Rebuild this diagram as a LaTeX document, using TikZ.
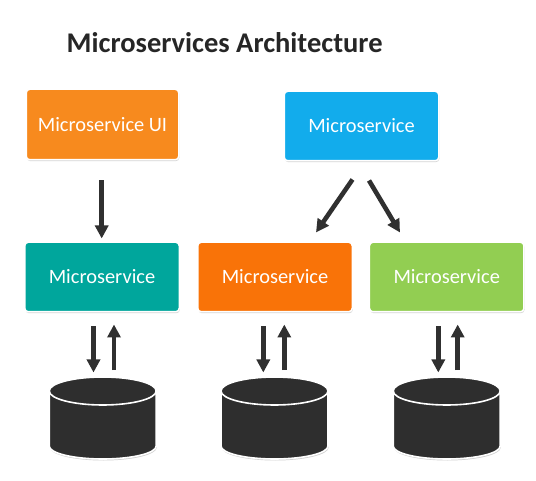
\documentclass[tikz,border=0pt]{standalone}
\usepackage{fontspec}
\setmainfont{Carlito}
\usetikzlibrary{arrows.meta,shadows}
\definecolor{uiorange}{RGB}{247,138,30}
\definecolor{msblue}{RGB}{18,172,236}
\definecolor{msteal}{RGB}{0,166,156}
\definecolor{msorange}{RGB}{249,115,8}
\definecolor{msgreen}{RGB}{146,206,82}
\definecolor{arrowc}{RGB}{48,48,48}
\definecolor{dbc}{RGB}{46,46,46}
\definecolor{titlec}{RGB}{38,38,38}
\tikzset{
  msbox/.style={rectangle, rounded corners=3.5pt, draw=white, line width=1.5pt,
    minimum width=154.5pt, minimum height=69.5pt, inner sep=0pt, text=white,
    font=\fontsize{20.4}{24}\selectfont,
    drop shadow={opacity=0.28, shadow xshift=0.6pt, shadow yshift=-1.4pt, fill=black!60}},
  arr/.style={draw=arrowc, line width=4.6pt, -{Triangle[width=13pt,length=13pt]}},
  dbshape/.style={fill=dbc, draw=white, line width=1.6pt,
    drop shadow={opacity=0.3, shadow xshift=0.6pt, shadow yshift=-1.5pt, fill=black!60}},
  db/.pic={
    \path[dbshape] (-53.5,0) -- (-53.5,-55) arc[start angle=180, end angle=360, x radius=53.5, y radius=13]
      -- (53.5,0) arc[start angle=0, end angle=180, x radius=53.5, y radius=14] -- cycle;
    \draw[white, line width=1.6pt] (-53.5,0) arc[start angle=180, end angle=360, x radius=53.5, y radius=14];
    \coordinate (-top) at (0,14);
  }
}
\begin{document}
\begin{tikzpicture}[x=1pt,y=1pt]
\useasboundingbox[fill=white] (0,0) rectangle (536,-481);
% title
\node[anchor=base west, inner sep=0pt, text=titlec, font=\fontsize{28.5}{33}\selectfont\bfseries] (title) at (66.5,-53) {Microservices Architecture};
% boxes
\node[msbox, fill=uiorange, minimum width=152.5pt, minimum height=70.5pt] (ui) at (102.5,-124.5) {Microservice UI};
\node[msbox, fill=msblue] (top) at (361.5,-126) {Microservice};
\node[msbox, fill=msteal] (ms1) at (102,-277) {Microservice};
\node[msbox, fill=msorange] (ms2) at (275,-277) {Microservice};
\node[msbox, fill=msgreen] (ms3) at (446.7,-277) {Microservice};
% databases
\pic (db1) at (102.7,-391) {db};
\pic (db2) at (274.5,-391) {db};
\pic (db3) at (446.7,-391) {db};
% arrows between services
\draw[arr] ([xshift=-0.8pt,yshift=-20pt]ui.south) -- ([xshift=-0.3pt,yshift=3pt]ms1.north);
\draw[arr] ([xshift=-9pt,yshift=-18pt]top.south) -- ([xshift=41pt,yshift=9pt]ms2.north);
\draw[arr] ([xshift=7.5pt,yshift=-19pt]top.south) -- ([xshift=-46.7pt,yshift=9pt]ms3.north);
% arrows to and from databases
\draw[arr] ([xshift=-8.5pt,yshift=-14pt]ms1.south) -- ([xshift=-9.2pt,yshift=4.5pt]db1-top);
\draw[arr] ([xshift=11.3pt,yshift=7pt]db1-top) -- ([xshift=12pt,yshift=-12pt]ms1.south);
\draw[arr] ([xshift=-11.7pt,yshift=-14pt]ms2.south) -- ([xshift=-11.2pt,yshift=4.5pt]db2-top);
\draw[arr] ([xshift=9.8pt,yshift=7pt]db2-top) -- ([xshift=9.3pt,yshift=-12pt]ms2.south);
\draw[arr] ([xshift=-8.4pt,yshift=-14pt]ms3.south) -- ([xshift=-8.4pt,yshift=4.5pt]db3-top);
\draw[arr] ([xshift=11pt,yshift=7pt]db3-top) -- ([xshift=11pt,yshift=-12pt]ms3.south);
\end{tikzpicture}
\end{document}
